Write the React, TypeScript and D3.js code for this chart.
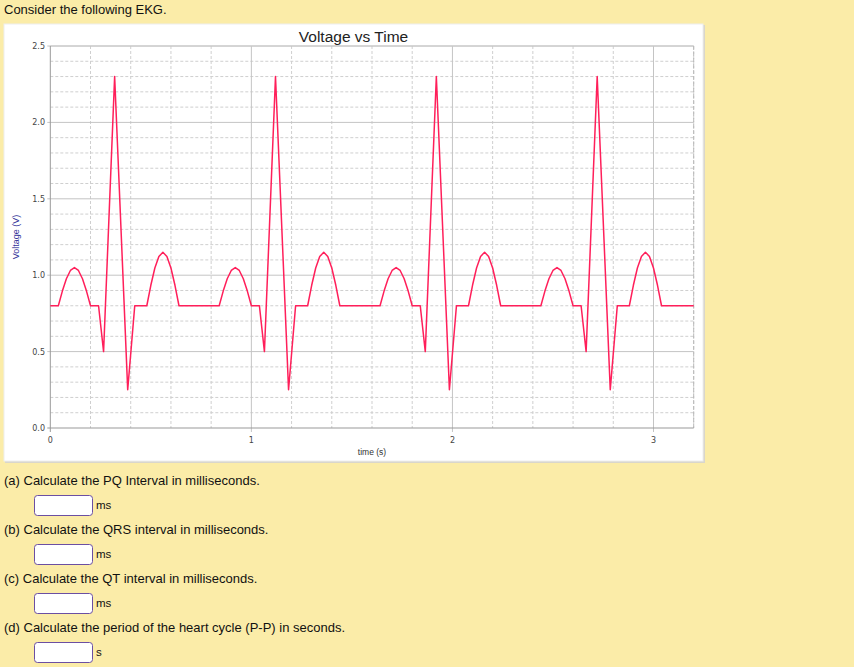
import React from "react";
import { scaleLinear, line, range } from "d3";

// EKG: one heartbeat template, repeated at each beat onset
const BEAT_ONSETS = [0, 0.8, 1.6, 2.4];
const BEAT_OFFSETS = [
  0.04, 0.06, 0.08, 0.1, 0.12, 0.14, 0.16, 0.18, 0.2, // P wave
  0.24, 0.265, 0.32, 0.385, 0.42, // Q, R, S
  0.48, 0.5, 0.52, 0.54, 0.56, 0.58, 0.6, 0.62, 0.64, // T wave
];
const BEAT_VOLTS = [
  0.8, 0.896, 0.977, 1.031, 1.05, 1.031, 0.977, 0.896, 0.8,
  0.8, 0.5, 2.3, 0.25, 0.8,
  0.8, 0.934, 1.047, 1.123, 1.15, 1.123, 1.047, 0.934, 0.8,
];
const BASELINE = 0.8;
const TIME_END = 3.2;

const TIME_TICKS = [0, 1, 2, 3];
const VOLT_TICKS = [0, 0.5, 1.0, 1.5, 2.0, 2.5];

const QUESTIONS = [
  { text: "(a) Calculate the PQ Interval in milliseconds.", unit: "ms" },
  { text: "(b) Calculate the QRS interval in milliseconds.", unit: "ms" },
  { text: "(c) Calculate the QT interval in milliseconds.", unit: "ms" },
  { text: "(d) Calculate the period of the heart cycle (P-P) in seconds.", unit: "s" },
];

const W = 854;
const H = 667;
const plot = { left: 50.3, right: 693.7, top: 46, bottom: 428 };

const App = () => {
  const x = scaleLinear().domain([0, TIME_END]).range([plot.left, plot.right]);
  const y = scaleLinear().domain([0, 2.5]).range([plot.bottom, plot.top]);

  const points: [number, number][] = [[0, BASELINE]];
  BEAT_ONSETS.forEach((t0) => {
    BEAT_OFFSETS.forEach((dt, i) => points.push([t0 + dt, BEAT_VOLTS[i]]));
  });
  points.push([TIME_END, BASELINE]);

  const path = line<[number, number]>()
    .x((d) => x(d[0]))
    .y((d) => y(d[1]))(points);

  const minorT = range(1, 17).map((i) => i * 0.2).filter((t) => Math.abs(t - Math.round(t)) > 1e-6);
  const minorV = range(1, 25).map((i) => i * 0.1).filter((v) => Math.abs(v * 2 - Math.round(v * 2)) > 1e-6);

  const sans = "'Liberation Sans', Arial, sans-serif";
  const small = "'DejaVu Sans', Verdana, sans-serif";

  return (
    <div style={{ position: "fixed", left: 0, top: 0, width: W, height: H }}>
      <svg width={W} height={H} style={{ display: "block" }}>
        <rect width={W} height={H} fill="#fbeca8" />
        <text x={4} y={14} fontFamily={sans} fontSize={13} fill="#111">
          Consider the following EKG.
        </text>

        {/* chart panel */}
        <rect x={5} y={25} width={700} height={438} fill="#d9d6cc" />
        <rect x={4} y={24} width={699} height={437} fill="#fff" stroke="#eeeeee" />

        <text x={353.5} y={42} textAnchor="middle" fontFamily={sans} fontSize={15.5} fill="#222">
          Voltage vs Time
        </text>

        {/* grid */}
        <g>
          {minorT.map((t) => (
            <line key={"mt" + t} x1={x(t)} x2={x(t)} y1={plot.top} y2={plot.bottom}
              stroke="#cfcfcf" strokeDasharray="3,2" />
          ))}
          {minorV.map((v) => (
            <line key={"mv" + v} x1={plot.left} x2={plot.right} y1={y(v)} y2={y(v)}
              stroke="#cfcfcf" strokeDasharray="3,2" />
          ))}
          {TIME_TICKS.slice(1).map((t) => (
            <line key={"Mt" + t} x1={x(t)} x2={x(t)} y1={plot.top} y2={plot.bottom + 4} stroke="#c4c4c4" />
          ))}
          {VOLT_TICKS.slice(1).map((v) => (
            <line key={"Mv" + v} x1={plot.left - 3} x2={plot.right} y1={y(v)} y2={y(v)} stroke="#c4c4c4" />
          ))}
          <line x1={plot.left} x2={plot.right} y1={plot.top} y2={plot.top} stroke="#c8c8c8" />
          <line x1={plot.right} x2={plot.right} y1={plot.top} y2={plot.bottom} stroke="#b8b8b8" strokeDasharray="4,2" />
        </g>

        {/* axes */}
        <line x1={plot.left} x2={plot.left} y1={plot.top} y2={plot.bottom + 4} stroke="#999" />
        <line x1={plot.left - 3} x2={plot.right} y1={plot.bottom} y2={plot.bottom} stroke="#999" />

        {VOLT_TICKS.map((v) => (
          <text key={"vl" + v} x={45} y={y(v) + 3} textAnchor="end" fontFamily={small} fontSize={8} fill="#444">
            {v.toFixed(1)}
          </text>
        ))}
        {TIME_TICKS.map((t) => (
          <text key={"tl" + t} x={x(t)} y={plot.bottom + 15} textAnchor="middle" fontFamily={small} fontSize={8} fill="#444">
            {t}
          </text>
        ))}
        <text x={(plot.left + plot.right) / 2} y={455} textAnchor="middle" fontFamily={sans} fontSize={8.5} fill="#333">
          time (s)
        </text>
        <text transform={`translate(19, ${(plot.top + plot.bottom) / 2}) rotate(-90)`} textAnchor="middle"
          fontFamily={sans} fontSize={9} fill="#333399">
          Voltage (V)
        </text>

        {/* trace */}
        <path d={path ?? ""} fill="none" stroke="#ff1f5a" strokeWidth={1.5} strokeLinejoin="round" />

        {/* questions */}
        {QUESTIONS.map((q, i) => {
          const base = 485 + i * 49;
          return (
            <g key={q.text}>
              <text x={4} y={base} fontFamily={sans} fontSize={13} fill="#111">{q.text}</text>
              <rect x={34.5} y={base + 10.5} width={58} height={20} rx={3} fill="#fff" stroke="#6b4fa3" />
              <text x={96} y={base + 24} fontFamily={sans} fontSize={11.5} fill="#111">{q.unit}</text>
            </g>
          );
        })}
      </svg>
    </div>
  );
};

export default App;
